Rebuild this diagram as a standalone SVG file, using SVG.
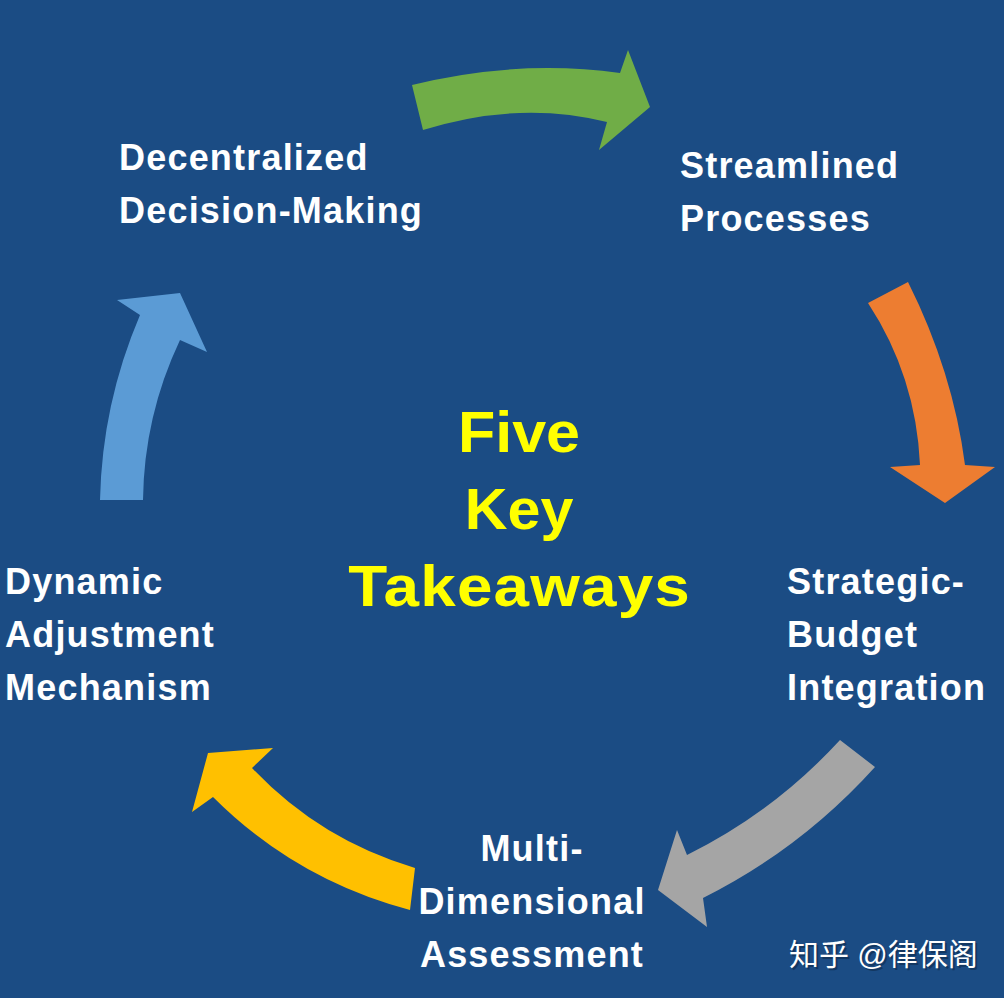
<svg xmlns="http://www.w3.org/2000/svg" width="1004" height="998" viewBox="0 0 1004 998">
<style>
.lbl{font-family:"Liberation Sans",Arial,sans-serif;font-weight:bold;font-size:36px;fill:#FFFFFF;letter-spacing:1.2px}
.ctr{font-family:"Liberation Sans",Arial,sans-serif;font-weight:bold;font-size:57px;fill:#FFFF00;text-anchor:middle}
.wm{font-family:"Liberation Sans","Noto Sans CJK SC",sans-serif;font-size:30px}
</style>
<rect x="0" y="0" width="1004" height="998" fill="#1B4C84"/>
<g id="connectors">
<path id="arrow-green" fill="#70AD47" d="M412,85 Q518,59 620,73 L628,50 L650,107 L599,150 L607,122 Q519,100 423,130 Z"/>
<path id="arrow-orange" fill="#ED7D31" d="M868,303 L908,282 Q953,372 965,465 L995,467 L945,503 L890,467 L920,465 Q916,376 868,303 Z"/>
<path id="arrow-gray" fill="#A5A5A5" d="M840,740 L875,767 Q801,849 703,898 L707,927 L658,890 L677,830 L687,855 Q774,812 840,740 Z"/>
<path id="arrow-yellow" fill="#FFC000" d="M415,868 Q320,840 252,768 L273,748 L208,753 L192,812 L213,797 Q296,880 410,910 Z"/>
<path id="arrow-blue" fill="#5B9BD5" d="M100,500 Q102,404 140,315 L117,300 L180,293 L207,352 L180,340 Q144,416 143,500 Z"/>
</g>
<g id="node-center" transform="translate(519,0) scale(1.12,1)">
<text class="ctr" x="0" y="452" textLength="109" lengthAdjust="spacingAndGlyphs">Five</text>
<text class="ctr" x="0" y="529" textLength="97" lengthAdjust="spacingAndGlyphs">Key</text>
<text class="ctr" x="0" y="606" textLength="305" lengthAdjust="spacing">Takeaways</text>
</g>
<g id="node-decentralized">
<text class="lbl" x="119" y="170">Decentralized</text>
<text class="lbl" x="119" y="223">Decision-Making</text>
</g>
<g id="node-streamlined">
<text class="lbl" x="680" y="178">Streamlined</text>
<text class="lbl" x="680" y="231">Processes</text>
</g>
<g id="node-strategic">
<text class="lbl" x="787" y="594">Strategic-</text>
<text class="lbl" x="787" y="647">Budget</text>
<text class="lbl" x="787" y="700">Integration</text>
</g>
<g id="node-multi">
<text class="lbl" x="532" y="861" text-anchor="middle">Multi-</text>
<text class="lbl" x="532" y="914" text-anchor="middle">Dimensional</text>
<text class="lbl" x="532" y="967" text-anchor="middle">Assessment</text>
</g>
<g id="node-dynamic">
<text class="lbl" x="5" y="594">Dynamic</text>
<text class="lbl" x="5" y="647">Adjustment</text>
<text class="lbl" x="5" y="700">Mechanism</text>
</g>
<g id="watermark">
<text class="wm" x="791" y="967" fill="#0E2A4A" opacity="0.6">知乎 @律保阁</text>
<text class="wm" x="789" y="965" fill="#FFFFFF">知乎 @律保阁</text>
</g>
</svg>
